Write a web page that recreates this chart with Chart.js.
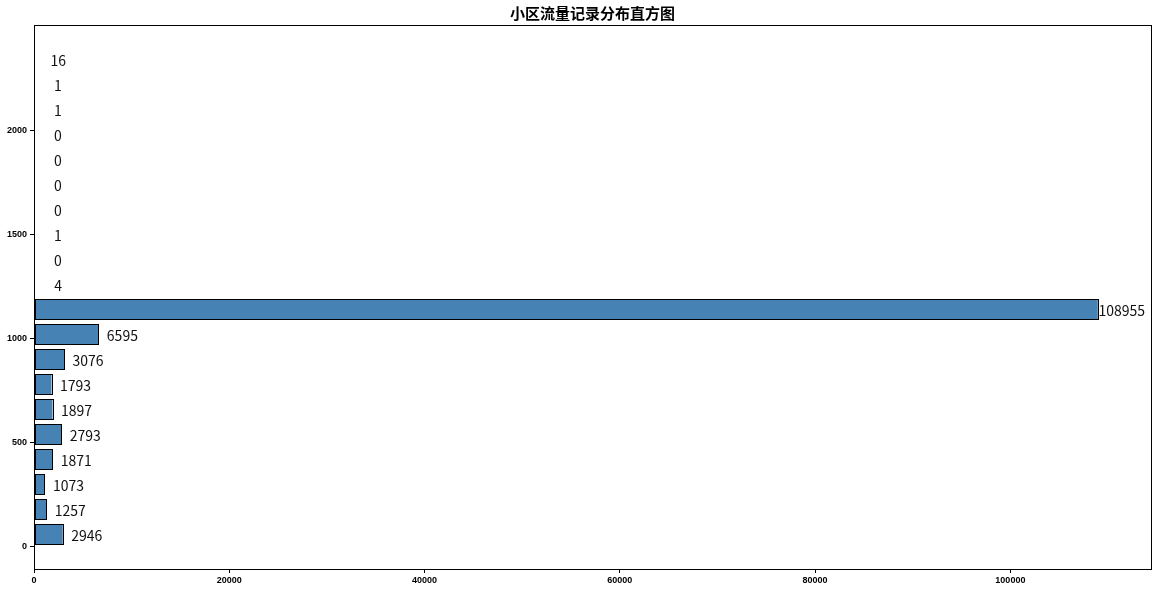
<!DOCTYPE html>
<html lang="zh">
<head>
  <meta charset="UTF-8">
  <title>小区流量记录分布直方图</title>
  <script src="https://cdn.jsdelivr.net/npm/chart.js"></script>
  <style>
    html, body { margin: 0; padding: 0; background: #fff; }
    #wrap { width: 1160px; height: 591px; }
  </style>
</head>
<body>
  <div id="wrap"><canvas id="histChart" width="1160" height="591"></canvas></div>

  <script>
    // bin centres (each bin is 120 wide, 0 .. 2400)
    const binCenters = [60, 180, 300, 420, 540, 660, 780, 900, 1020, 1140,
                        1260, 1380, 1500, 1620, 1740, 1860, 1980, 2100, 2220, 2340];
    // record counts per bin, bottom to top
    const counts = [2946, 1257, 1073, 1871, 2793, 1897, 1793, 3076, 6595, 108955,
                    4, 0, 1, 0, 0, 0, 0, 1, 1, 16];
    const yTicks = [0, 500, 1000, 1500, 2000];
    const xTicks = [0, 20000, 40000, 60000, 80000, 100000];
    const chartTitle = '小区流量记录分布直方图';

    const tickFont = { family: "'Liberation Sans', Arial, sans-serif", size: 9, weight: 'bold' };

    // frame round the plot area, like the matplotlib spines
    const framePlugin = {
      id: 'frame',
      afterDraw(chart) {
        const a = chart.chartArea, ctx = chart.ctx;
        ctx.save();
        ctx.strokeStyle = '#000';
        ctx.lineWidth = 1;
        ctx.strokeRect(Math.round(a.left) + 0.5, Math.round(a.top) + 0.5,
                       Math.round(a.right - a.left), Math.round(a.bottom - a.top));
        ctx.restore();
      }
    };

    // crisp black edges on the bars + count labels right of every bar
    const valueLabels = {
      id: 'valueLabels',
      afterDatasetsDraw(chart) {
        const ctx = chart.ctx;
        const meta = chart.getDatasetMeta(0);
        const xs = chart.scales.x;
        ctx.save();
        ctx.strokeStyle = '#000';
        ctx.lineWidth = 1;
        meta.data.forEach((bar, i) => {
          const p = bar.getProps(['x', 'y', 'base', 'height'], true);
          const l = Math.round(p.base), r = Math.round(p.x);
          if (r - l < 2) return; // hidden under the spine
          const top = Math.round(p.y - p.height / 2), bot = Math.round(p.y + p.height / 2);
          ctx.strokeRect(l + 0.5, top + 0.5, r - l, bot - top);
        });
        ctx.font = "14px 'Noto Sans CJK SC', 'DejaVu Sans', sans-serif";
        ctx.fillStyle = '#111';
        ctx.textAlign = 'center';
        ctx.textBaseline = 'middle';
        meta.data.forEach((bar, i) => {
          const x = xs.getPixelForValue(counts[i]) + 24;
          ctx.fillText(String(counts[i]), x, bar.y + 1);
        });
        ctx.restore();
      }
    };

    const dataMin = binCenters[0] - 48;
    const dataMax = binCenters[binCenters.length - 1] + 48;
    const yPad = (dataMax - dataMin) * 0.05;

    new Chart(document.getElementById('histChart').getContext('2d'), {
      type: 'bar',
      data: {
        datasets: [{
          data: binCenters.map((c, i) => ({ x: counts[i], y: c })),
          backgroundColor: '#4682B4',
          borderColor: '#000',
          borderWidth: 0,
          inflateAmount: 0,
          barPercentage: 0.8,
          categoryPercentage: 1.0
        }]
      },
      options: {
        indexAxis: 'y',
        responsive: false,
        animation: false,
        layout: { padding: { left: 0, right: 9, top: 0, bottom: 0 } },
        plugins: {
          legend: { display: false },
          tooltip: { enabled: false },
          title: {
            display: true,
            text: chartTitle,
            fullSize: false,
            color: '#000',
            font: { family: "'Noto Sans CJK SC', sans-serif", size: 15, weight: 'bold', lineHeight: 1.2 },
            padding: { top: 4, bottom: 3 }
          }
        },
        scales: {
          x: {
            type: 'linear',
            min: 0,
            max: Math.max(...counts) * 1.05,
            afterBuildTicks: s => { s.ticks = xTicks.map(v => ({ value: v })); },
            afterFit: s => { s.height = 22; },
            grid: { drawOnChartArea: false, tickLength: 4, tickColor: '#000' },
            border: { display: false },
            ticks: { color: '#000', font: tickFont, padding: 2, maxRotation: 0, callback: v => String(v) }
          },
          y: {
            type: 'linear',
            offset: false,
            min: dataMin - yPad,
            max: dataMax + yPad,
            afterBuildTicks: s => { s.ticks = yTicks.map(v => ({ value: v })); },
            afterFit: s => { s.width = 34; },
            grid: { offset: false, drawOnChartArea: false, tickLength: 4, tickColor: '#000' },
            border: { display: false },
            ticks: { color: '#000', font: tickFont, padding: 3, callback: v => String(v) }
          }
        }
      },
      plugins: [framePlugin, valueLabels]
    });
  </script>
</body>
</html>
